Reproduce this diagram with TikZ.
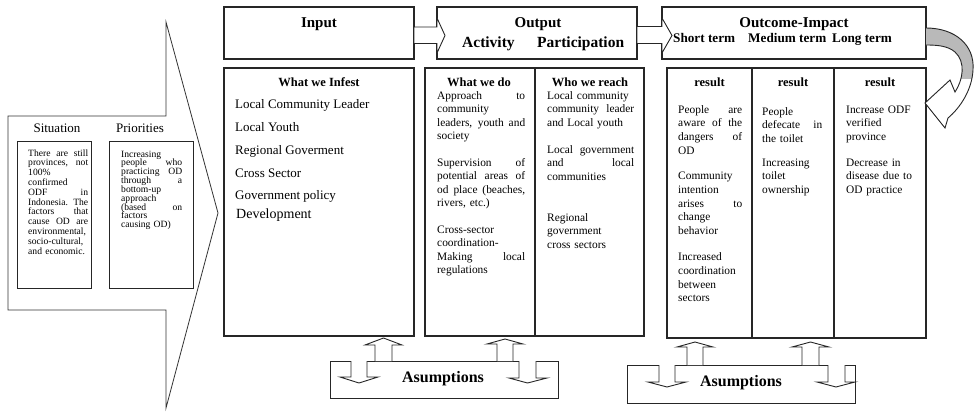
\documentclass[tikz,border=0pt]{standalone}
\usepackage{fontspec}
\setmainfont{Liberation Serif}
\newcommand\jst[1]{{\spaceskip=0.25em plus 20em\relax\xspaceskip=0.3em plus 20em\relax\makebox[\linewidth][s]{#1}}}
\newcommand\nrm[1]{\mbox{#1}}
\begin{document}
\begin{tikzpicture}[x=1pt,y=-1pt,
  bx/.style={draw=black!85, line width=1.1pt, fill=white, inner sep=0pt, outer sep=0pt, anchor=north west},
  thinbx/.style={bx, line width=0.9pt},
  blk/.style={draw=black!85, line width=0.9pt, fill=white, line join=miter},
  hd/.style={font=\fontsize{15}{18}\selectfont\bfseries, inner sep=0pt, anchor=base},
  hdw/.style={font=\fontsize{15.5}{18}\selectfont\bfseries, inner sep=0pt, anchor=base west},
  sub/.style={font=\fontsize{13.2}{16}\selectfont\bfseries, inner sep=0pt, anchor=base west},
  colhd/.style={font=\fontsize{12.5}{15}\selectfont\bfseries, inner sep=0pt, anchor=base},
  para/.style={inner sep=0pt, anchor=base west, align=left, text width=#1},
  body/.style={font=\fontsize{11.4}{13.5}\selectfont},
  obody/.style={font=\fontsize{11.4}{13.7}\selectfont},
  item/.style={font=\fontsize{13}{16}\selectfont, inner sep=0pt, anchor=base west},
  small/.style={font=\fontsize{9.6}{9.83}\selectfont},
  smallp/.style={font=\fontsize{9.6}{8.85}\selectfont},
  lab/.style={font=\fontsize{13}{16}\selectfont, inner sep=0pt, anchor=base},
  asm/.style={font=\fontsize{16}{19}\selectfont\bfseries, inner sep=0pt, anchor=base}
]
\useasboundingbox (0,0) rectangle (978,418);
\fill[white] (0,0) rectangle (978,418);

% big left arrow
\draw[draw=black!80, line width=0.8pt, line join=miter] (8,116) -- (166,116) -- (166,22) -- (218,213) -- (166,408) -- (166,310) -- (8,310) -- cycle;
\node[lab] (sitlab) at (57,132) {Situation};
\node[lab] (prilab) at (140,132) {Priorities};
\node[thinbx, minimum width=74pt, minimum height=147pt] (sitbox) at (17,141) {};
\node[thinbx, minimum width=84pt, minimum height=147pt] (pribox) at (109,141) {};
\node[para=60pt, small] (sittxt) at (28,156) {\jst{There are still}\\ \jst{provinces, not}\\ \nrm{100\%}\\ \nrm{confirmed}\\ \jst{ODF in}\\ \jst{Indonesia. The}\\ \jst{factors that}\\ \jst{cause OD are}\\ \nrm{environmental,}\\ \nrm{socio-cultural,}\\ \nrm{and economic.}};
\node[para=61pt, smallp] (pritxt) at (121,157) {\nrm{Increasing}\\ \jst{people who}\\ \jst{practicing OD}\\ \jst{through a}\\ \nrm{bottom-up}\\ \nrm{approach}\\ \jst{(based on}\\ \nrm{factors}\\ \nrm{causing OD)}};

% Input
\node[bx, minimum width=190pt, minimum height=52pt] (inhead) at (224,7) {};
\node[hd] (intitle) at (319,27) {Input};
\node[bx, minimum width=190pt, minimum height=268pt] (inbody) at (224,68) {};
\node[colhd] (infest) at (319,86) {What we Infest};
\node[item] (i1) at (235,108.5) {Local Community Leader};
\node[item] (i2) at (235,131) {Local Youth};
\node[item] (i3) at (235,154) {Regional Goverment};
\node[item] (i4) at (235,177) {Cross Sector};
\node[item] (i5) at (235,199) {Government policy};
\node[item, font=\fontsize{14}{17}\selectfont] (i6) at (236,218) {Development};

% Output
\node[bx, minimum width=200pt, minimum height=52pt] (outhead) at (437,7) {};
\node[hd] (outtitle) at (538,27) {Output};
\node[hdw] (act) at (462,47) {Activity};
\node[hdw] (part) at (537,47) {Participation};
\node[bx, minimum width=219pt, minimum height=268pt] (outbody) at (425,68) {};
\draw[draw=black!85, line width=1.1pt] (outbody.north west) ++(110,0) coordinate (d1) -- (d1 |- outbody.south);
\node[colhd] (wdo) at (479,86) {What we do};
\node[colhd] (wre) at (590,86) {Who we reach};
\node[para=88pt, body] (dotxt) at (437,99) {\jst{Approach to}\\ \nrm{community}\\ \jst{leaders, youth and}\\ \nrm{society}\\[13pt] \jst{Supervision of}\\ \jst{potential areas of}\\ \jst{od place (beaches,}\\ \nrm{rivers, etc.)}\\[13pt] \nrm{Cross-sector}\\ \nrm{coordination-}\\ \jst{Making local}\\ \nrm{regulations}};
\node[para=87pt, body] (retxt) at (547,99) {\nrm{Local community}\\ \jst{community leader}\\ \nrm{and Local youth}\\[13.5pt] \jst{Local government}\\ \jst{and local}\\ \nrm{communities}\\[27.5pt] \nrm{Regional}\\ \nrm{government}\\ \nrm{cross sectors}};

% arrows between header boxes
\draw[blk] (414,27) -- (437,27) -- (437,18) -- (445,35.5) -- (437,53) -- (437,43.5) -- (414,43.5) -- cycle;

% Outcome
\node[bx, minimum width=264pt, minimum height=52pt] (ochead) at (662,7) {};
\draw[blk] (637,26.5) -- (662,26.5) -- (662,18) -- (672,35.5) -- (662,53) -- (662,43.5) -- (637,43.5) -- cycle;
\node[hd] (octitle) at (794,27) {Outcome-Impact};
\node[sub] (st) at (673,42.5) {Short term};
\node[sub] (mt) at (748,42.5) {Medium term};
\node[sub] (lt) at (832,42.5) {Long term};
\node[bx, minimum width=259pt, minimum height=270pt] (ocbody) at (667,68) {};
\draw[draw=black!85, line width=1.1pt] (ocbody.north west) ++(85,0) coordinate (d2) -- (d2 |- ocbody.south);
\draw[draw=black!85, line width=1.1pt] (ocbody.north west) ++(167,0) coordinate (d3) -- (d3 |- ocbody.south);
\node[colhd] (r1) at (709.5,86) {result};
\node[colhd] (r2) at (793,86) {result};
\node[colhd] (r3) at (880,86) {result};
\node[para=64pt, obody] (c1) at (678,113) {\jst{People are}\\ \jst{aware of the}\\ \jst{dangers of}\\ \nrm{OD}\\[12pt] \nrm{Community}\\ \nrm{intention}\\ \jst{arises to}\\ \nrm{change}\\ \nrm{behavior}\\[12.5pt] \nrm{Increased}\\ \nrm{coordination}\\ \nrm{between}\\ \nrm{sectors}};
\node[para=60pt, obody] (c2) at (762,115) {\nrm{People}\\ \jst{defecate in}\\ \nrm{the toilet}\\[10pt] \nrm{Increasing}\\ \nrm{toilet}\\ \nrm{ownership}};
\node[para=68pt, obody] (c3) at (846,113) {\nrm{Increase ODF}\\ \nrm{verified}\\ \nrm{province}\\[12pt] \nrm{Decrease in}\\ \nrm{disease due to}\\ \nrm{OD practice}};

% curved arrow
\fill[white] (926,28) .. controls (955,28) and (975,45) .. (973,70) .. controls (972,90) and (960,108) .. (948,118) -- (945,128) -- (925,103) -- (950,80) -- (955,92) .. controls (963,80) and (966,62) .. (955,52) .. controls (948,46) and (938,45) .. (926,45) -- cycle;
\begin{scope}
\clip (926,0) rectangle (978,78);
\fill[gray!55] (926,28) .. controls (955,28) and (975,45) .. (973,70) .. controls (972,90) and (960,108) .. (948,118) -- (955,92) .. controls (963,80) and (966,62) .. (955,52) .. controls (948,46) and (938,45) .. (926,45) -- cycle;
\end{scope}
\draw[draw=black!85, line width=0.9pt, line join=miter] (926,28) .. controls (955,28) and (975,45) .. (973,70) .. controls (972,90) and (960,108) .. (948,118) -- (945,128) -- (925,103) -- (950,80) -- (955,92) .. controls (963,80) and (966,62) .. (955,52) .. controls (948,46) and (938,45) .. (926,45);

% Assumptions left
\node[bx, line width=1pt, minimum width=228pt, minimum height=37pt] (asm1) at (330,361) {};
\node[asm] (asm1t) at (443,382) {Asumptions};
\draw[blk] (375,361) -- (375,345) -- (365,345) -- (383.5,338) -- (402,345) -- (392,345) -- (392,361);
\draw[blk] (497,361) -- (497,344) -- (487,344) -- (505,339) -- (523,344) -- (513,344) -- (513,361);
\draw[blk] (351,361) -- (351,377) -- (340,377) -- (359,383) -- (378,377) -- (367,377) -- (367,361);
\draw[blk] (519,361) -- (519,378) -- (509,378) -- (527.5,383) -- (547,378) -- (536,378) -- (536,361);

% Assumptions right
\node[bx, line width=1pt, minimum width=228pt, minimum height=38pt] (asm2) at (627,365) {};
\node[asm] (asm2t) at (741,386) {Asumptions};
\draw[blk] (687,365) -- (687,347) -- (677,347) -- (695,342) -- (713,347) -- (703,347) -- (703,365);
\draw[blk] (802,365) -- (802,347) -- (792,347) -- (810.5,342) -- (829,347) -- (819,347) -- (819,365);
\draw[blk] (659,365) -- (659,382) -- (648,382) -- (667,387) -- (686,382) -- (675,382) -- (675,365);
\draw[blk] (828,365) -- (828,382) -- (817,382) -- (836,387) -- (855,382) -- (845,382) -- (845,365);
\end{tikzpicture}
\end{document}
